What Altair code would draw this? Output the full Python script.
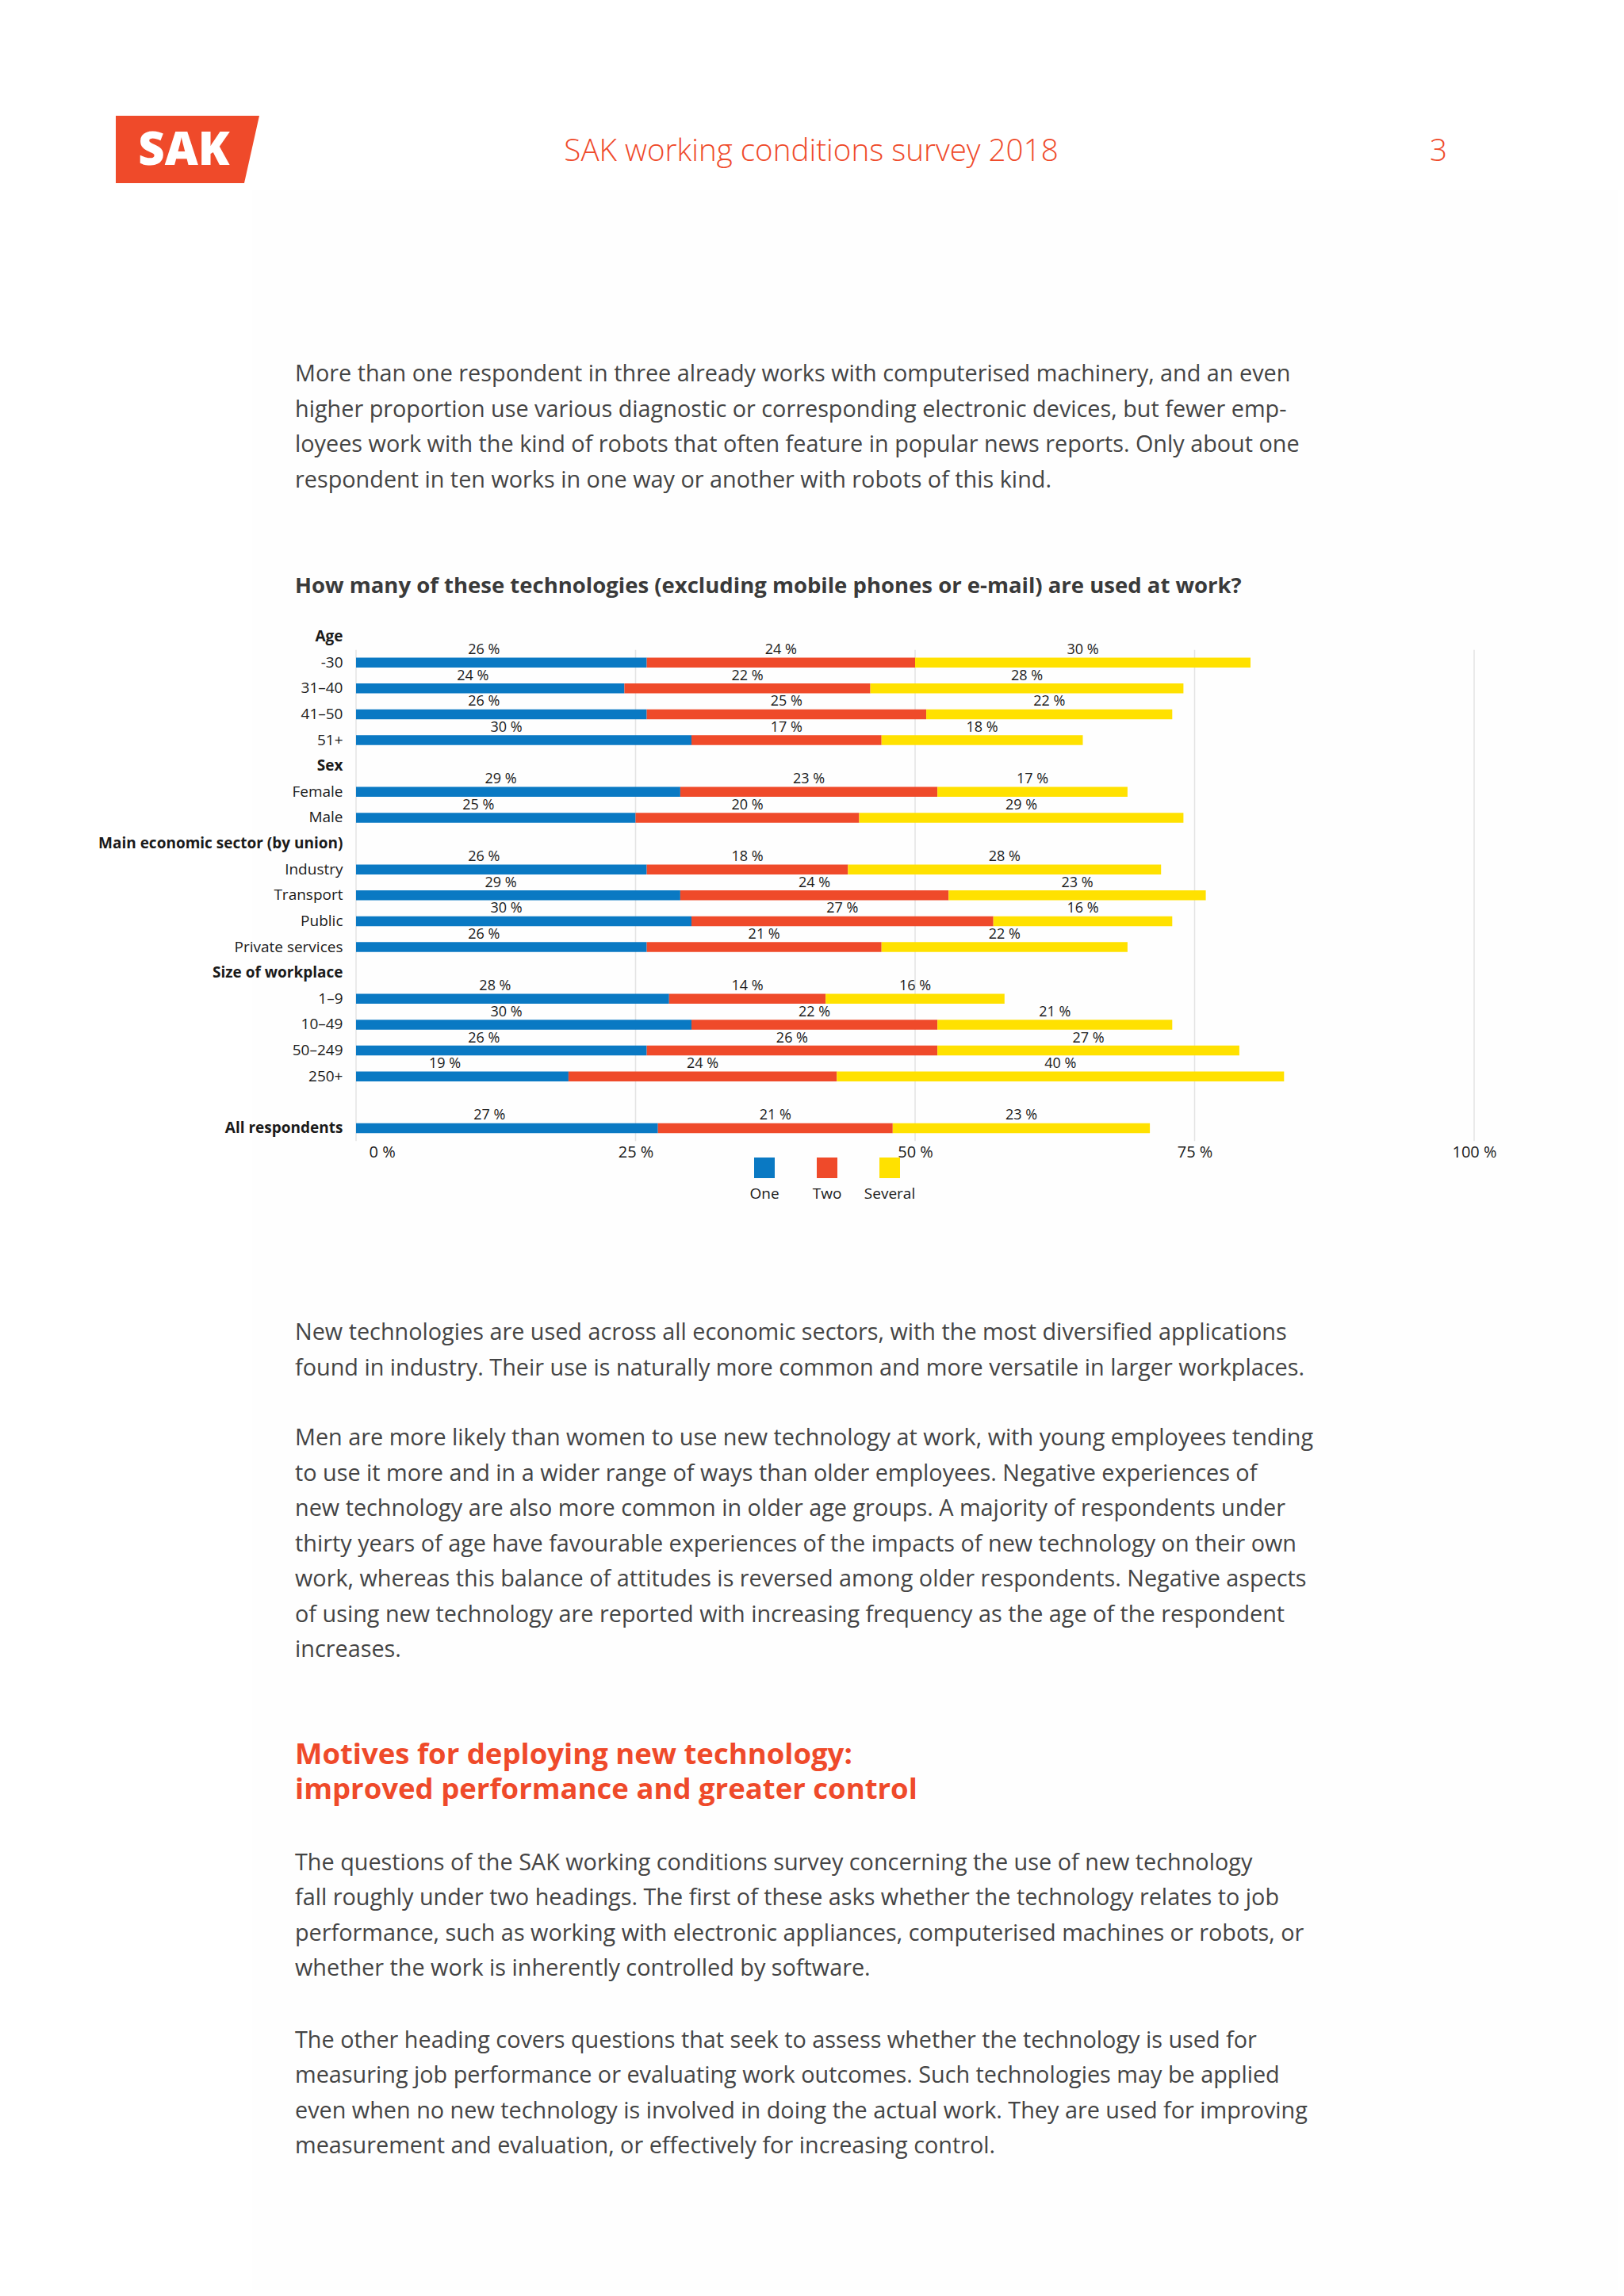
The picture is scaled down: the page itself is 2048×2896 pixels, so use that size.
import altair as alt
import pandas as pd

# ---------------- data ----------------
rows = ["Age", "-30", "31–40", "41–50", "51+",
        "Sex", "Female", "Male",
        "Main economic sector (by union)", "Industry", "Transport", "Public", "Private services",
        "Size of workplace", "1–9", "10–49", "50–249", "250+",
        " ", "All respondents"]
bold_rows = ["Age", "Sex", "Main economic sector (by union)", "Size of workplace", "All respondents"]

groups = ["-30", "31–40", "41–50", "51+", "Female", "Male",
          "Industry", "Transport", "Public", "Private services",
          "1–9", "10–49", "50–249", "250+", "All respondents"]
one = [26, 24, 26, 30, 29, 25, 26, 29, 30, 26, 28, 30, 26, 19, 27]
two = [24, 22, 25, 17, 23, 20, 18, 24, 27, 21, 14, 22, 26, 24, 21]
several = [30, 28, 22, 18, 17, 29, 28, 23, 16, 22, 16, 21, 27, 40, 23]

series = ["One", "Two", "Several"]
colors = ["#0a79c3", "#ef4a2a", "#ffe100"]
ticks = [0, 25, 50, 75, 100]

header_text = "SAK working conditions survey 2018"
page_number = "3"
logo_text = "SAK"

p1 = ["More than one respondent in three already works with computerised machinery, and an even",
      "higher proportion use various diagnostic or corresponding electronic devices, but fewer emp-",
      "loyees work with the kind of robots that often feature in popular news reports. Only about one",
      "respondent in ten works in one way or another with robots of this kind."]
chart_title = "How many of these technologies (excluding mobile phones or e-mail) are used at work?"
p2 = ["New technologies are used across all economic sectors, with the most diversified applications",
      "found in industry. Their use is naturally more common and more versatile in larger workplaces."]
p3 = ["Men are more likely than women to use new technology at work, with young employees tending",
      "to use it more and in a wider range of ways than older employees. Negative experiences of",
      "new technology are also more common in older age groups. A majority of respondents under",
      "thirty years of age have favourable experiences of the impacts of new technology on their own",
      "work, whereas this balance of attitudes is reversed among older respondents. Negative aspects",
      "of using new technology are reported with increasing frequency as the age of the respondent",
      "increases."]
heading = ["Motives for deploying new technology:",
           "improved performance and greater control"]
p4 = ["The questions of the SAK working conditions survey concerning the use of new technology",
      "fall roughly under two headings. The first of these asks whether the technology relates to job",
      "performance, such as working with electronic appliances, computerised machines or robots, or",
      "whether the work is inherently controlled by software."]
p5 = ["The other heading covers questions that seek to assess whether the technology is used for",
      "measuring job performance or evaluating work outcomes. Such technologies may be applied",
      "even when no new technology is involved in doing the actual work. They are used for improving",
      "measurement and evaluation, or effectively for increasing control."]

# ---------------- tables ----------------
recs = []
for g, a, b, c in zip(groups, one, two, several):
    s = 0
    for name, v in zip(series, [a, b, c]):
        recs.append({"group": g, "series": name, "value": v,
                     "start": s, "end": s + v, "mid": s + v / 2, "label": f"{v} %"})
        s += v
df = pd.DataFrame(recs)
grid_df = pd.DataFrame({"tick": ticks})
legend_df = pd.DataFrame({"series": series})
one_row = pd.DataFrame({"k": [0]})

# ---------------- layout constants ----------------
FONT = "Open Sans"
BODY = "#444444"
RED = "#ef4a2a"
PLOT_W = 1410
STEP = 32.63
PLOT_H = STEP * len(rows)
OX, OY = 449, 786.7          # page position of plot origin
PAD_L, PAD_T = OX - 8, OY - 8
TOTAL_W, TOTAL_H = 2032, 2880
BODY_SIZE = 28.8

def px(x):
    return x - OX

def py(y):
    return y - OY

bold_list = "[" + ",".join("'" + r + "'" for r in bold_rows) + "]"

y_enc = alt.Y("group:N",
              scale=alt.Scale(domain=rows, paddingInner=0, paddingOuter=0),
              axis=alt.Axis(title=None, ticks=False, domain=False, grid=False, zindex=2,
                            labelPadding=17, labelFontSize=19, labelFont=FONT,
                            labelColor="#1a1a1a", labelLimit=500,
                            labelFontWeight={"condition": {"test": f"indexof({bold_list}, datum.value) >= 0",
                                                           "value": "bold"},
                                             "value": "normal"}))
x_scale = alt.Scale(domain=[0, 100], nice=False)
x_axis = alt.Axis(title=None, values=ticks, labelExpr="datum.value + ' %'", zindex=2,
                  ticks=False, domain=False, grid=False, labelFontSize=20,
                  labelFont=FONT, labelColor="#1a1a1a", labelPadding=4,
                  labelAlign={"condition": {"test": "datum.value == 0", "value": "left"}, "value": "center"},
                  labelOffset={"condition": {"test": "datum.value == 0", "value": 16}, "value": 0})
color_enc = alt.Color("series:N", scale=alt.Scale(domain=series, range=colors), legend=None)

grid = alt.Chart(grid_df).mark_rule(color="#e3e3e3", strokeWidth=1.5).encode(
    x=alt.X("tick:Q", scale=x_scale, axis=x_axis),
    y=alt.value(33), y2=alt.value(PLOT_H))

bars = alt.Chart(df).mark_bar(size=12.5).encode(
    x=alt.X("start:Q", scale=x_scale, axis=x_axis),
    x2="end:Q",
    y=y_enc,
    color=color_enc)

labels_one = alt.Chart(df).transform_filter(alt.datum.series == "One").mark_text(
    dy=-15.5, dx=-22, fontSize=18, font=FONT, color="#1a1a1a").encode(
    x=alt.X("mid:Q", scale=x_scale, axis=x_axis),
    y=y_enc,
    text="label:N")
labels_rest = alt.Chart(df).transform_filter(alt.datum.series != "One").mark_text(
    dy=-15.5, fontSize=18, font=FONT, color="#1a1a1a").encode(
    x=alt.X("mid:Q", scale=x_scale, axis=x_axis),
    y=y_enc,
    text="label:N")

main = alt.layer(grid, bars, labels_one, labels_rest)

leg_x = alt.X("series:N", scale=alt.Scale(domain=series, range=[515, 673], padding=0), axis=None)
leg_sq = alt.Chart(legend_df).mark_square(size=676, opacity=1, filled=True).encode(
    x=leg_x, y=alt.value(py(1473)), color=color_enc)
leg_tx = alt.Chart(legend_df).mark_text(fontSize=19, font=FONT, color="#1a1a1a", baseline="middle").encode(
    x=leg_x, y=alt.value(py(1506)), text="series:N")

def text_block(lines, x, y, size, weight="normal", color=BODY, lh=44.6, align="left"):
    return alt.Chart(one_row).mark_text(
        text=lines, lineHeight=lh, align=align, baseline="alphabetic",
        font=FONT, fontSize=size, fontWeight=weight, color=color
    ).encode(x=alt.value(px(x)), y=alt.value(py(y)))

bg = alt.Chart(one_row).mark_rect(color="#fefefe").encode(
    x=alt.value(px(318)), x2=alt.value(px(2040)), y=alt.value(py(240)), y2=alt.value(py(2888)))

logo = alt.Chart(one_row).mark_point(
    shape="M -1 -0.4696 L 1 -0.4696 L 0.79 0.4696 L -1 0.4696 Z",
    size=181 * 181, filled=True, fill=RED, opacity=1, strokeWidth=0
).encode(x=alt.value(px(236.5)), y=alt.value(py(188.5)))

logo_t = text_block(logo_text, 232, 208, 58, weight=800, color="white", align="center")
head_t = text_block(header_text, 1023, 203, 38.6, weight=300, color=RED, align="center")
page_t = text_block(page_number, 1814, 203, 38.6, weight=300, color=RED, align="center")

t1 = text_block(p1, 372, 481, BODY_SIZE)
tt = text_block(chart_title, 372, 748, 27.5, weight="bold", color="#3a3a3a")
t2 = text_block(p2, 372, 1690, BODY_SIZE)
t3 = text_block(p3, 372, 1823, BODY_SIZE, lh=44.5)
th = text_block(heading, 372, 2225, 36.5, weight="bold", color=RED, lh=44)
t4 = text_block(p4, 372, 2359, BODY_SIZE, lh=44.4)
t5 = text_block(p5, 372, 2583, BODY_SIZE, lh=44.4)

chart = alt.layer(bg, main, leg_sq, leg_tx, logo, logo_t, head_t, page_t,
                  t1, tt, t2, t3, th, t4, t5).resolve_scale(x="independent").properties(
    width=PLOT_W, height=PLOT_H,
    autosize=alt.AutoSizeParams(type="none"),
    padding={"left": PAD_L, "top": PAD_T,
             "right": TOTAL_W - PAD_L - PLOT_W,
             "bottom": TOTAL_H - PAD_T - PLOT_H},
    background="white"
).configure_view(stroke=None)

chart.save("out.html", embed_options={"renderer": "svg", "actions": False})
